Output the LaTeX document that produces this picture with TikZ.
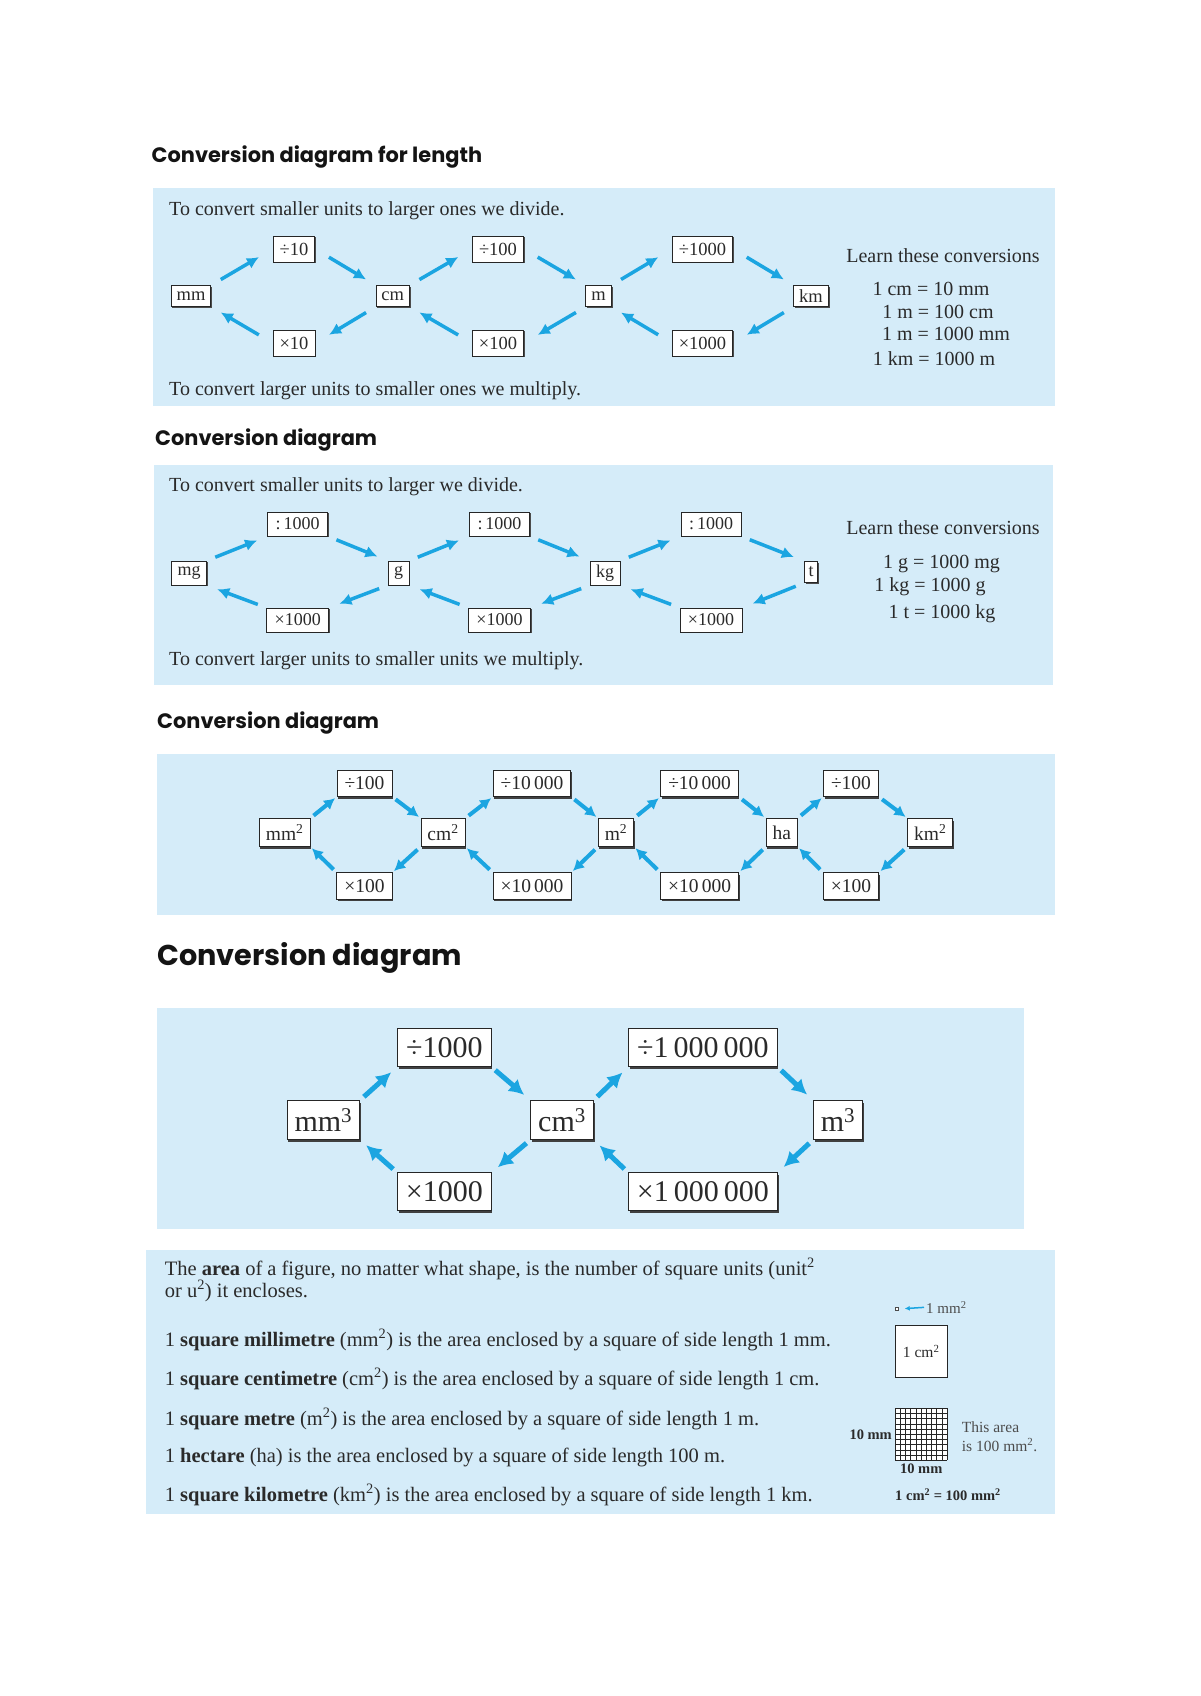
\documentclass[tikz,border=0pt]{standalone}
\usepackage{fontspec}
\setmainfont{Liberation Serif}
\newfontfamily\titlefont{Poppins}
\usetikzlibrary{arrows.meta,shadows}
\definecolor{panelblue}{HTML}{D5ECF9}
\definecolor{arrowcyan}{HTML}{1BA5E1}
\definecolor{ink}{HTML}{2A2A2A}
\newcommand{\fsz}[1]{\fontsize{#1}{#1}\selectfont}
\newcommand{\sq}[1]{\textsuperscript{#1}}
\begin{document}
\begin{tikzpicture}[x=1pt,y=-1pt,
  panel/.style={fill=panelblue, draw=none},
  ttl/.style={anchor=base west, inner sep=0pt, font=\titlefont\bfseries\fsz{20.9}, text=black!92},
  body/.style={anchor=base west, inner sep=0pt, font=\fsz{20}, text=ink},
  bodyE/.style={anchor=base west, inner sep=0pt, font=\fsz{20.5}, text=ink},
  learn/.style={anchor=base, inner sep=0pt, font=\fsz{20}, text=ink},
  boxbase/.style={draw=black!85, fill=white, line width=0.8pt, text=ink, inner ysep=0pt},
  unitA/.style={boxbase, font=\fsz{18.5}, inner xsep=5.5pt, minimum height=21pt,
     drop shadow={shadow xshift=1.3pt, shadow yshift=-1.3pt, fill=black!70, opacity=1}},
  opA/.style={boxbase, font=\fsz{18.5}, inner xsep=6.5pt, minimum height=26pt,
     drop shadow={shadow xshift=1.3pt, shadow yshift=-1.3pt, fill=black!70, opacity=1}},
  unitB/.style={boxbase, font=\fsz{18}, inner xsep=6pt, minimum height=24pt,
     drop shadow={shadow xshift=1.3pt, shadow yshift=-1.3pt, fill=black!70, opacity=1}},
  opB/.style={boxbase, font=\fsz{18}, inner xsep=8pt, minimum height=24pt,
     drop shadow={shadow xshift=1.3pt, shadow yshift=-1.3pt, fill=black!70, opacity=1}},
  unitC/.style={boxbase, font=\fsz{19.5}, inner xsep=6.5pt, minimum height=28pt,
     drop shadow={shadow xshift=1pt, shadow yshift=-2pt, fill=black!75, opacity=1}},
  opC/.style={boxbase, font=\fsz{19.5}, inner xsep=7.5pt, minimum height=26.5pt,
     drop shadow={shadow xshift=1pt, shadow yshift=-2pt, fill=black!75, opacity=1}},
  unitD/.style={boxbase, font=\fsz{30}, inner xsep=7.5pt, minimum height=39pt,
     drop shadow={shadow xshift=1.2pt, shadow yshift=-2.5pt, fill=black!75, opacity=1}},
  opD/.style={boxbase, font=\fsz{30}, inner xsep=8.5pt, minimum height=38pt,
     drop shadow={shadow xshift=1.2pt, shadow yshift=-2.5pt, fill=black!75, opacity=1}},
  arrbase/.style={draw=arrowcyan, line width=3.5pt, -{Latex[length=12pt,width=12pt]}},
  arrUO/.style={arrbase, shorten <=11pt, shorten >=16pt},
  arrOU/.style={arrbase, shorten <=16pt, shorten >=11pt},
  arrB/.style={arrbase, shorten <=9pt, shorten >=11pt},
  arrC/.style={draw=arrowcyan, line width=4pt, -{Latex[length=11pt,width=12pt]}, shorten <=4pt, shorten >=2pt},
  arrD/.style={draw=arrowcyan, line width=5pt, -{Latex[length=15pt,width=16pt]}, shorten <=5pt, shorten >=8pt},
  small/.style={inner sep=0pt, text=ink}
]
\useasboundingbox (0,0) rectangle (1200,1696);

% ---------------- Panel 1: length ----------------
\node[ttl] (t1) at (151.5,163) {Conversion diagram for length};
\fill[panel] (152.6,188) rectangle (1054.5,405.8);
\node[body] (p1a) at (169,216) {To convert smaller units to larger ones we divide.};
\node[body] (p1b) at (169,395) {To convert larger units to smaller ones we multiply.};

\node[unitA] (mm) at (191,296) {mm};
\node[unitA] (cm) at (392.7,296) {cm};
\node[unitA] (m)  at (598.5,296) {m};
\node[unitA] (km) at (811,296) {km};
\node[opA] (d10)   at (294,249)   {÷10};
\node[opA] (x10)   at (294,343)   {×10};
\node[opA] (d100)  at (498,249)   {÷100};
\node[opA] (x100)  at (498,343)   {×100};
\node[opA] (d1000) at (702.5,249) {÷1000};
\node[opA] (x1000) at (702.5,343) {×1000};

\draw[arrUO] (mm.north east) -- (d10.west);
\draw[arrOU] (d10.east) -- (cm.north west);
\draw[arrUO] (cm.south west) -- (x10.east);
\draw[arrOU] (x10.west) -- (mm.south east);
\draw[arrUO] (cm.north east) -- (d100.west);
\draw[arrOU] (d100.east) -- (m.north west);
\draw[arrUO] (m.south west) -- (x100.east);
\draw[arrOU] (x100.west) -- (cm.south east);
\draw[arrUO] (m.north east) -- (d1000.west);
\draw[arrOU] (d1000.east) -- (km.north west);
\draw[arrUO] (km.south west) -- (x1000.east);
\draw[arrOU] (x1000.west) -- (m.south east);

\node[learn] (lc) at (943,262.7) {Learn these conversions};
\node[learn] (lc1) at (931,295) {1 cm = 10 mm};
\node[learn] (lc2) at (938,318.3) {1 m = 100 cm};
\node[learn] (lc3) at (946,340.7) {1 m = 1000 mm};
\node[learn] (lc4) at (934,365) {1 km = 1000 m};

% ---------------- Panel 2: mass ----------------
\node[ttl] (t2) at (155,445) {Conversion diagram};
\fill[panel] (154,464.5) rectangle (1052.5,684.5);
\node[body] (p2a) at (169,491) {To convert smaller units to larger we divide.};
\node[body] (p2b) at (169,665) {To convert larger units to smaller units we multiply.};

\node[unitB] (mg) at (189,573) {mg};
\node[unitB] (g)  at (398.5,573) {g};
\node[unitB] (kg) at (605,573) {kg};
\node[unitB, minimum height=21pt, inner xsep=4pt] (t) at (811,572) {t};
\node[opB] (dg1) at (297.7,524) {:\,1000};
\node[opB] (xg1) at (297.7,620) {×1000};
\node[opB] (dg2) at (499.5,524) {:\,1000};
\node[opB] (xg2) at (499.5,620) {×1000};
\node[opB] (dg3) at (711,524) {:\,1000};
\node[opB] (xg3) at (711,620) {×1000};

\draw[arrB] (mg.north east) -- (dg1.south west);
\draw[arrB] (dg1.south east) -- (g.north west);
\draw[arrB] (g.south west) -- (xg1.north east);
\draw[arrB] (xg1.north west) -- (mg.south east);
\draw[arrB] (g.north east) -- (dg2.south west);
\draw[arrB] (dg2.south east) -- (kg.north west);
\draw[arrB] (kg.south west) -- (xg2.north east);
\draw[arrB] (xg2.north west) -- (g.south east);
\draw[arrB] (kg.north east) -- (dg3.south west);
\draw[arrB] (dg3.south east) -- (t.north west);
\draw[arrB] (t.south west) -- (xg3.north east);
\draw[arrB] (xg3.north west) -- (kg.south east);

\node[learn] (lm) at (943,534) {Learn these conversions};
\node[learn] (lm1) at (941.5,568.3) {1 g = 1000 mg};
\node[learn] (lm2) at (930,591.7) {1 kg = 1000 g};
\node[learn] (lm3) at (942,618.3) {1 t = 1000 kg};

% ---------------- Panel 3: area ----------------
\node[ttl] (t3) at (157,728) {Conversion diagram};
\fill[panel] (157,753.5) rectangle (1054.5,915);

\node[unitC] (a1) at (284.7,832.5) {mm\sq{2}};
\node[unitC] (a2) at (443,832.5) {cm\sq{2}};
\node[unitC] (a3) at (616,832.5) {m\sq{2}};
\node[unitC] (a4) at (781.7,832.5) {ha};
\node[unitC] (a5) at (930.2,832.5) {km\sq{2}};
\node[opC] (ad1) at (364.5,783.3) {÷100};
\node[opC] (ax1) at (364.5,886) {×100};
\node[opC] (ad2) at (532,783.3) {÷10\,000};
\node[opC] (ax2) at (532,886) {×10\,000};
\node[opC] (ad3) at (699.6,783.3) {÷10\,000};
\node[opC] (ax3) at (699.6,886) {×10\,000};
\node[opC] (ad4) at (851,783.3) {÷100};
\node[opC] (ax4) at (851,886) {×100};

\draw[arrC] (a1.north east) -- (ad1.south west);
\draw[arrC] (ad1.south east) -- (a2.north west);
\draw[arrC] (a2.south west) -- (ax1.north east);
\draw[arrC] (ax1.north west) -- (a1.south east);
\draw[arrC] (a2.north east) -- (ad2.south west);
\draw[arrC] (ad2.south east) -- (a3.north west);
\draw[arrC] (a3.south west) -- (ax2.north east);
\draw[arrC] (ax2.north west) -- (a2.south east);
\draw[arrC] (a3.north east) -- (ad3.south west);
\draw[arrC] (ad3.south east) -- (a4.north west);
\draw[arrC] (a4.south west) -- (ax3.north east);
\draw[arrC] (ax3.north west) -- (a3.south east);
\draw[arrC] (a4.north east) -- (ad4.south west);
\draw[arrC] (ad4.south east) -- (a5.north west);
\draw[arrC] (a5.south west) -- (ax4.north east);
\draw[arrC] (ax4.north west) -- (a4.south east);

% ---------------- Panel 4: volume ----------------
\node[ttl, font=\titlefont\bfseries\fsz{28.7}] (t4) at (157,965) {Conversion diagram};
\fill[panel] (156.5,1008) rectangle (1024,1229);

\node[unitD] (v1) at (323.4,1120) {mm\sq{3}};
\node[unitD] (v2) at (562,1120) {cm\sq{3}};
\node[unitD] (v3) at (838,1120) {m\sq{3}};
\node[opD] (vd1) at (444.3,1047.5) {÷1000};
\node[opD] (vx1) at (444.3,1191.8) {×1000};
\node[opD] (vd2) at (702.9,1047.5) {÷1\,000\,000};
\node[opD] (vx2) at (702.9,1191.8) {×1\,000\,000};

\draw[arrD] (v1.north east) -- (vd1.south west);
\draw[arrD] (vd1.south east) -- (v2.north west);
\draw[arrD] (v2.south west) -- (vx1.north east);
\draw[arrD] (vx1.north west) -- (v1.south east);
\draw[arrD] (v2.north east) -- (vd2.south west);
\draw[arrD] (vd2.south east) -- (v3.north west);
\draw[arrD] (v3.south west) -- (vx2.north east);
\draw[arrD] (vx2.north west) -- (v2.south east);

% ---------------- Panel 5: area text ----------------
\fill[panel] (145.5,1250) rectangle (1054.5,1514.3);
\node[bodyE] (q1) at (164.6,1275) {The \textbf{area} of a figure, no matter what shape, is the number of square units (unit\sq{2}};
\node[bodyE] (q2) at (164.6,1297.3) {or u\sq{2}) it encloses.};
\node[bodyE] (q3) at (164.6,1346) {1 \textbf{square millimetre} (mm\sq{2}) is the area enclosed by a square of side length 1 mm.};
\node[bodyE] (q4) at (164.6,1385) {1 \textbf{square centimetre} (cm\sq{2}) is the area enclosed by a square of side length 1 cm.};
\node[bodyE] (q5) at (164.6,1425) {1 \textbf{square metre} (m\sq{2}) is the area enclosed by a square of side length 1 m.};
\node[bodyE] (q6) at (164.6,1462.7) {1 \textbf{hectare} (ha) is the area enclosed by a square of side length 100 m.};
\node[bodyE] (q7) at (164.6,1501) {1 \textbf{square kilometre} (km\sq{2}) is the area enclosed by a square of side length 1 km.};

% illustration
\node[draw=black!70, fill=white, line width=0.6pt, minimum size=3.5pt, inner sep=0pt] (tiny) at (896.7,1309) {};
\node[small, anchor=base west, font=\fsz{15}, text=black!70] (onemm) at (926,1313.3) {1 mm\sq{2}};
\draw[draw=arrowcyan, line width=1.5pt, -{Latex[length=5pt,width=5pt]}, shorten <=2pt, shorten >=6pt] (onemm.west) -- (tiny.east);
\node[draw=black!85, fill=white, line width=0.9pt, minimum size=52pt, inner sep=0pt, font=\fsz{15.5}, text=ink] (cmsq) at (921.2,1351.7) {1 cm\sq{2}};
\fill[white] (895,1408.3) rectangle (947.3,1460.3);
\foreach \i in {0,...,10} {
  \draw[black!85, line width=0.8pt] (895+5.23*\i,1408.3) -- (895+5.23*\i,1460.3);
  \draw[black!85, line width=0.8pt] (895,1408.3+5.2*\i) -- (947.3,1408.3+5.2*\i);
}
\node[small, anchor=east, font=\bfseries\fsz{14.5}] (tenl) at (892,1435) {10 mm};
\node[small, anchor=north, font=\bfseries\fsz{14.5}] (tenb) at (921.2,1464) {10 mm};
\node[small, anchor=base west, font=\fsz{15.5}, text=black!70] (ta1) at (961.7,1432.7) {This area};
\node[small, anchor=base west, font=\fsz{15.5}, text=black!70] (ta2) at (961.7,1451) {is 100 mm\sq{2}.};
\node[small, anchor=base west, font=\bfseries\fsz{14.5}] (eq) at (895,1500.7) {1 cm\sq{2} = 100 mm\sq{2}};
\end{tikzpicture}
\end{document}
